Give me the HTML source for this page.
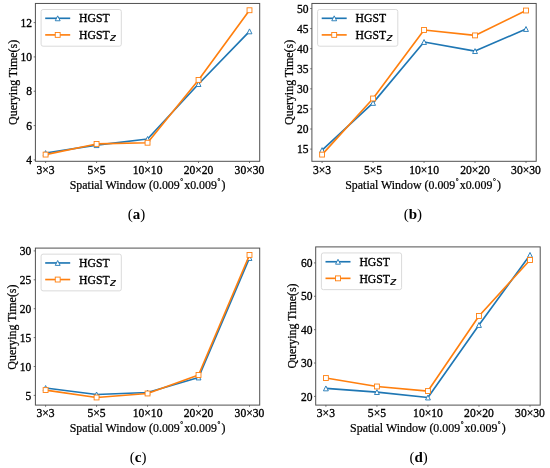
<!DOCTYPE html>
<html><head><meta charset="utf-8"><title>Querying time</title>
<style>html,body{margin:0;padding:0;background:#fff}svg{display:block}text{font-family:"Liberation Serif","DejaVu Serif",serif;fill:#000;stroke:#000;stroke-width:0.24px}.t{stroke-width:0.36px}.z{font-family:"DejaVu Sans","Liberation Sans",sans-serif;font-style:italic;stroke-width:0.2px}</style></head><body>
<svg width="550" height="468" viewBox="0 0 550 468">
<rect width="550" height="468" fill="#fff"/>
<g id="panel-a">
<polyline points="45.60,153.03 96.57,145.14 147.55,138.96 198.53,84.04 249.50,31.35" fill="none" stroke="#1f77b4" stroke-width="1.65" stroke-linejoin="round"/>
<path d="M45.60,150.59L48.05,155.48L43.15,155.48Z" fill="#fff" stroke="#1f77b4" stroke-width="0.9" stroke-linejoin="miter"/>
<path d="M96.57,142.69L99.02,147.59L94.12,147.59Z" fill="#fff" stroke="#1f77b4" stroke-width="0.9" stroke-linejoin="miter"/>
<path d="M147.55,136.51L150.00,141.41L145.10,141.41Z" fill="#fff" stroke="#1f77b4" stroke-width="0.9" stroke-linejoin="miter"/>
<path d="M198.53,81.59L200.98,86.49L196.08,86.49Z" fill="#fff" stroke="#1f77b4" stroke-width="0.9" stroke-linejoin="miter"/>
<path d="M249.50,28.90L251.95,33.80L247.05,33.80Z" fill="#fff" stroke="#1f77b4" stroke-width="0.9" stroke-linejoin="miter"/>
<polyline points="45.60,154.58 96.57,143.94 147.55,142.74 198.53,79.92 249.50,10.24" fill="none" stroke="#ff7f0e" stroke-width="1.65" stroke-linejoin="round"/>
<rect x="43.15" y="152.13" width="4.9" height="4.9" fill="#fff" stroke="#ff7f0e" stroke-width="0.9"/>
<rect x="94.12" y="141.49" width="4.9" height="4.9" fill="#fff" stroke="#ff7f0e" stroke-width="0.9"/>
<rect x="145.10" y="140.29" width="4.9" height="4.9" fill="#fff" stroke="#ff7f0e" stroke-width="0.9"/>
<rect x="196.08" y="77.47" width="4.9" height="4.9" fill="#fff" stroke="#ff7f0e" stroke-width="0.9"/>
<rect x="247.05" y="7.79" width="4.9" height="4.9" fill="#fff" stroke="#ff7f0e" stroke-width="0.9"/>
<rect x="35.4" y="3.45" width="224.30" height="157.85" fill="none" stroke="#505050" stroke-width="1.0"/>
<line x1="45.60" y1="161.3" x2="45.60" y2="163.0" stroke="#505050" stroke-width="0.8"/>
<text transform="translate(45.60,173.90) scale(0.88,1)" class="t" font-size="13.2" text-anchor="middle">3×3</text>
<line x1="96.57" y1="161.3" x2="96.57" y2="163.0" stroke="#505050" stroke-width="0.8"/>
<text transform="translate(96.57,173.90) scale(0.88,1)" class="t" font-size="13.2" text-anchor="middle">5×5</text>
<line x1="147.55" y1="161.3" x2="147.55" y2="163.0" stroke="#505050" stroke-width="0.8"/>
<text transform="translate(147.55,173.90) scale(0.88,1)" class="t" font-size="13.2" text-anchor="middle">10×10</text>
<line x1="198.53" y1="161.3" x2="198.53" y2="163.0" stroke="#505050" stroke-width="0.8"/>
<text transform="translate(198.53,173.90) scale(0.88,1)" class="t" font-size="13.2" text-anchor="middle">20×20</text>
<line x1="249.50" y1="161.3" x2="249.50" y2="163.0" stroke="#505050" stroke-width="0.8"/>
<text transform="translate(249.50,173.90) scale(0.88,1)" class="t" font-size="13.2" text-anchor="middle">30×30</text>
<line x1="35.4" y1="159.90" x2="33.699999999999996" y2="159.90" stroke="#505050" stroke-width="0.8"/>
<text transform="translate(32.10,164.10) scale(0.86,1)" class="t" font-size="13.4" text-anchor="end">4</text>
<line x1="35.4" y1="125.58" x2="33.699999999999996" y2="125.58" stroke="#505050" stroke-width="0.8"/>
<text transform="translate(32.10,129.78) scale(0.86,1)" class="t" font-size="13.4" text-anchor="end">6</text>
<line x1="35.4" y1="91.25" x2="33.699999999999996" y2="91.25" stroke="#505050" stroke-width="0.8"/>
<text transform="translate(32.10,95.45) scale(0.86,1)" class="t" font-size="13.4" text-anchor="end">8</text>
<line x1="35.4" y1="56.92" x2="33.699999999999996" y2="56.92" stroke="#505050" stroke-width="0.8"/>
<text transform="translate(32.10,61.12) scale(0.86,1)" class="t" font-size="13.4" text-anchor="end">10</text>
<line x1="35.4" y1="22.60" x2="33.699999999999996" y2="22.60" stroke="#505050" stroke-width="0.8"/>
<text transform="translate(32.10,26.80) scale(0.86,1)" class="t" font-size="13.4" text-anchor="end">12</text>
<text transform="translate(147.55,188.90) scale(0.896,1)" font-size="13.3" text-anchor="middle">Spatial Window (0.009<tspan dx="0.6" dy="-5.2" font-size="8">°</tspan><tspan dx="1.2" dy="5.2">x0.009</tspan><tspan dx="0.6" dy="-5.2" font-size="8">°</tspan><tspan dx="1.2" dy="5.2">)</tspan></text>
<text transform="translate(16.50,82.38) rotate(-90) scale(0.897,1)" font-size="13.3" text-anchor="middle">Querying Time(s)</text>
<rect x="41.10" y="9.50" width="80.2" height="36.7" rx="2" ry="2" fill="#fff" fill-opacity="0.8" stroke="#dadada" stroke-width="1"/>
<line x1="45.20" y1="18.30" x2="70.20" y2="18.30" stroke="#1f77b4" stroke-width="1.65"/>
<path d="M57.70,15.85L60.15,20.75L55.25,20.75Z" fill="#fff" stroke="#1f77b4" stroke-width="0.9" stroke-linejoin="miter"/>
<line x1="45.20" y1="34.90" x2="70.20" y2="34.90" stroke="#ff7f0e" stroke-width="1.65"/>
<rect x="55.25" y="32.45" width="4.9" height="4.9" fill="#fff" stroke="#ff7f0e" stroke-width="0.9"/>
<text transform="translate(79.10,22.40) scale(0.88,1)" class="t" font-size="13.3">HGST</text>
<text transform="translate(79.10,39.20) scale(0.88,1)" class="t" font-size="13.3">HGST</text>
<text class="z" x="110.00" y="41.20" font-size="11">z</text>
<text x="136.4" y="219.1" font-size="15" text-anchor="middle" style="stroke:none">(<tspan font-weight="bold">a</tspan>)</text>
</g>
<g id="panel-b">
<polyline points="322.10,150.10 373.07,102.90 424.05,42.00 475.03,51.08 526.00,28.99" fill="none" stroke="#1f77b4" stroke-width="1.65" stroke-linejoin="round"/>
<path d="M322.10,147.65L324.55,152.55L319.65,152.55Z" fill="#fff" stroke="#1f77b4" stroke-width="0.9" stroke-linejoin="miter"/>
<path d="M373.07,100.45L375.52,105.35L370.62,105.35Z" fill="#fff" stroke="#1f77b4" stroke-width="0.9" stroke-linejoin="miter"/>
<path d="M424.05,39.55L426.50,44.45L421.60,44.45Z" fill="#fff" stroke="#1f77b4" stroke-width="0.9" stroke-linejoin="miter"/>
<path d="M475.03,48.63L477.48,53.53L472.58,53.53Z" fill="#fff" stroke="#1f77b4" stroke-width="0.9" stroke-linejoin="miter"/>
<path d="M526.00,26.54L528.45,31.44L523.55,31.44Z" fill="#fff" stroke="#1f77b4" stroke-width="0.9" stroke-linejoin="miter"/>
<polyline points="322.10,154.60 373.07,98.48 424.05,29.99 475.03,35.41 526.00,10.51" fill="none" stroke="#ff7f0e" stroke-width="1.65" stroke-linejoin="round"/>
<rect x="319.65" y="152.15" width="4.9" height="4.9" fill="#fff" stroke="#ff7f0e" stroke-width="0.9"/>
<rect x="370.62" y="96.03" width="4.9" height="4.9" fill="#fff" stroke="#ff7f0e" stroke-width="0.9"/>
<rect x="421.60" y="27.54" width="4.9" height="4.9" fill="#fff" stroke="#ff7f0e" stroke-width="0.9"/>
<rect x="472.58" y="32.96" width="4.9" height="4.9" fill="#fff" stroke="#ff7f0e" stroke-width="0.9"/>
<rect x="523.55" y="8.06" width="4.9" height="4.9" fill="#fff" stroke="#ff7f0e" stroke-width="0.9"/>
<rect x="311.9" y="3.45" width="224.30" height="157.85" fill="none" stroke="#505050" stroke-width="1.0"/>
<line x1="322.10" y1="161.3" x2="322.10" y2="163.0" stroke="#505050" stroke-width="0.8"/>
<text transform="translate(322.10,173.90) scale(0.88,1)" class="t" font-size="13.2" text-anchor="middle">3×3</text>
<line x1="373.07" y1="161.3" x2="373.07" y2="163.0" stroke="#505050" stroke-width="0.8"/>
<text transform="translate(373.07,173.90) scale(0.88,1)" class="t" font-size="13.2" text-anchor="middle">5×5</text>
<line x1="424.05" y1="161.3" x2="424.05" y2="163.0" stroke="#505050" stroke-width="0.8"/>
<text transform="translate(424.05,173.90) scale(0.88,1)" class="t" font-size="13.2" text-anchor="middle">10×10</text>
<line x1="475.03" y1="161.3" x2="475.03" y2="163.0" stroke="#505050" stroke-width="0.8"/>
<text transform="translate(475.03,173.90) scale(0.88,1)" class="t" font-size="13.2" text-anchor="middle">20×20</text>
<line x1="526.00" y1="161.3" x2="526.00" y2="163.0" stroke="#505050" stroke-width="0.8"/>
<text transform="translate(526.00,173.90) scale(0.88,1)" class="t" font-size="13.2" text-anchor="middle">30×30</text>
<line x1="311.9" y1="149.10" x2="310.2" y2="149.10" stroke="#505050" stroke-width="0.8"/>
<text transform="translate(308.60,153.30) scale(0.86,1)" class="t" font-size="13.4" text-anchor="end">15</text>
<line x1="311.9" y1="129.01" x2="310.2" y2="129.01" stroke="#505050" stroke-width="0.8"/>
<text transform="translate(308.60,133.21) scale(0.86,1)" class="t" font-size="13.4" text-anchor="end">20</text>
<line x1="311.9" y1="108.93" x2="310.2" y2="108.93" stroke="#505050" stroke-width="0.8"/>
<text transform="translate(308.60,113.13) scale(0.86,1)" class="t" font-size="13.4" text-anchor="end">25</text>
<line x1="311.9" y1="88.84" x2="310.2" y2="88.84" stroke="#505050" stroke-width="0.8"/>
<text transform="translate(308.60,93.04) scale(0.86,1)" class="t" font-size="13.4" text-anchor="end">30</text>
<line x1="311.9" y1="68.76" x2="310.2" y2="68.76" stroke="#505050" stroke-width="0.8"/>
<text transform="translate(308.60,72.96) scale(0.86,1)" class="t" font-size="13.4" text-anchor="end">35</text>
<line x1="311.9" y1="48.67" x2="310.2" y2="48.67" stroke="#505050" stroke-width="0.8"/>
<text transform="translate(308.60,52.87) scale(0.86,1)" class="t" font-size="13.4" text-anchor="end">40</text>
<line x1="311.9" y1="28.59" x2="310.2" y2="28.59" stroke="#505050" stroke-width="0.8"/>
<text transform="translate(308.60,32.79) scale(0.86,1)" class="t" font-size="13.4" text-anchor="end">45</text>
<line x1="311.9" y1="8.50" x2="310.2" y2="8.50" stroke="#505050" stroke-width="0.8"/>
<text transform="translate(308.60,12.70) scale(0.86,1)" class="t" font-size="13.4" text-anchor="end">50</text>
<text transform="translate(423.05,188.90) scale(0.896,1)" font-size="13.3" text-anchor="middle">Spatial Window (0.009<tspan dx="0.6" dy="-5.2" font-size="8">°</tspan><tspan dx="1.2" dy="5.2">x0.009</tspan><tspan dx="0.6" dy="-5.2" font-size="8">°</tspan><tspan dx="1.2" dy="5.2">)</tspan></text>
<text transform="translate(293.00,82.38) rotate(-90) scale(0.897,1)" font-size="13.3" text-anchor="middle">Querying Time(s)</text>
<rect x="317.60" y="9.50" width="80.2" height="36.7" rx="2" ry="2" fill="#fff" fill-opacity="0.8" stroke="#dadada" stroke-width="1"/>
<line x1="321.70" y1="18.30" x2="346.70" y2="18.30" stroke="#1f77b4" stroke-width="1.65"/>
<path d="M334.20,15.85L336.65,20.75L331.75,20.75Z" fill="#fff" stroke="#1f77b4" stroke-width="0.9" stroke-linejoin="miter"/>
<line x1="321.70" y1="34.90" x2="346.70" y2="34.90" stroke="#ff7f0e" stroke-width="1.65"/>
<rect x="331.75" y="32.45" width="4.9" height="4.9" fill="#fff" stroke="#ff7f0e" stroke-width="0.9"/>
<text transform="translate(355.60,22.40) scale(0.88,1)" class="t" font-size="13.3">HGST</text>
<text transform="translate(355.60,39.20) scale(0.88,1)" class="t" font-size="13.3">HGST</text>
<text class="z" x="386.50" y="41.20" font-size="11">z</text>
<text x="412.9" y="219.1" font-size="15" text-anchor="middle" style="stroke:none">(<tspan font-weight="bold">b</tspan>)</text>
</g>
<g id="panel-c">
<polyline points="45.60,388.00 96.57,394.48 147.55,392.51 198.53,377.48 249.50,258.01" fill="none" stroke="#1f77b4" stroke-width="1.65" stroke-linejoin="round"/>
<path d="M45.60,385.55L48.05,390.45L43.15,390.45Z" fill="#fff" stroke="#1f77b4" stroke-width="0.9" stroke-linejoin="miter"/>
<path d="M96.57,392.03L99.02,396.93L94.12,396.93Z" fill="#fff" stroke="#1f77b4" stroke-width="0.9" stroke-linejoin="miter"/>
<path d="M147.55,390.06L150.00,394.96L145.10,394.96Z" fill="#fff" stroke="#1f77b4" stroke-width="0.9" stroke-linejoin="miter"/>
<path d="M198.53,375.03L200.98,379.93L196.08,379.93Z" fill="#fff" stroke="#1f77b4" stroke-width="0.9" stroke-linejoin="miter"/>
<path d="M249.50,255.56L251.95,260.46L247.05,260.46Z" fill="#fff" stroke="#1f77b4" stroke-width="0.9" stroke-linejoin="miter"/>
<polyline points="45.60,390.08 96.57,397.48 147.55,393.49 198.53,375.00 249.50,254.95" fill="none" stroke="#ff7f0e" stroke-width="1.65" stroke-linejoin="round"/>
<rect x="43.15" y="387.63" width="4.9" height="4.9" fill="#fff" stroke="#ff7f0e" stroke-width="0.9"/>
<rect x="94.12" y="395.03" width="4.9" height="4.9" fill="#fff" stroke="#ff7f0e" stroke-width="0.9"/>
<rect x="145.10" y="391.04" width="4.9" height="4.9" fill="#fff" stroke="#ff7f0e" stroke-width="0.9"/>
<rect x="196.08" y="372.55" width="4.9" height="4.9" fill="#fff" stroke="#ff7f0e" stroke-width="0.9"/>
<rect x="247.05" y="252.50" width="4.9" height="4.9" fill="#fff" stroke="#ff7f0e" stroke-width="0.9"/>
<rect x="35.4" y="248.1" width="224.30" height="157.00" fill="none" stroke="#505050" stroke-width="1.0"/>
<line x1="45.60" y1="405.1" x2="45.60" y2="406.8" stroke="#505050" stroke-width="0.8"/>
<text transform="translate(45.60,417.20) scale(0.88,1)" class="t" font-size="13.2" text-anchor="middle">3×3</text>
<line x1="96.57" y1="405.1" x2="96.57" y2="406.8" stroke="#505050" stroke-width="0.8"/>
<text transform="translate(96.57,417.20) scale(0.88,1)" class="t" font-size="13.2" text-anchor="middle">5×5</text>
<line x1="147.55" y1="405.1" x2="147.55" y2="406.8" stroke="#505050" stroke-width="0.8"/>
<text transform="translate(147.55,417.20) scale(0.88,1)" class="t" font-size="13.2" text-anchor="middle">10×10</text>
<line x1="198.53" y1="405.1" x2="198.53" y2="406.8" stroke="#505050" stroke-width="0.8"/>
<text transform="translate(198.53,417.20) scale(0.88,1)" class="t" font-size="13.2" text-anchor="middle">20×20</text>
<line x1="249.50" y1="405.1" x2="249.50" y2="406.8" stroke="#505050" stroke-width="0.8"/>
<text transform="translate(249.50,417.20) scale(0.88,1)" class="t" font-size="13.2" text-anchor="middle">30×30</text>
<line x1="35.4" y1="395.40" x2="33.699999999999996" y2="395.40" stroke="#505050" stroke-width="0.8"/>
<text transform="translate(31.20,399.60) scale(0.86,1)" class="t" font-size="13.4" text-anchor="end">5</text>
<line x1="35.4" y1="366.50" x2="33.699999999999996" y2="366.50" stroke="#505050" stroke-width="0.8"/>
<text transform="translate(31.20,370.70) scale(0.86,1)" class="t" font-size="13.4" text-anchor="end">10</text>
<line x1="35.4" y1="337.60" x2="33.699999999999996" y2="337.60" stroke="#505050" stroke-width="0.8"/>
<text transform="translate(31.20,341.80) scale(0.86,1)" class="t" font-size="13.4" text-anchor="end">15</text>
<line x1="35.4" y1="308.70" x2="33.699999999999996" y2="308.70" stroke="#505050" stroke-width="0.8"/>
<text transform="translate(31.20,312.90) scale(0.86,1)" class="t" font-size="13.4" text-anchor="end">20</text>
<line x1="35.4" y1="279.80" x2="33.699999999999996" y2="279.80" stroke="#505050" stroke-width="0.8"/>
<text transform="translate(31.20,284.00) scale(0.86,1)" class="t" font-size="13.4" text-anchor="end">25</text>
<line x1="35.4" y1="250.90" x2="33.699999999999996" y2="250.90" stroke="#505050" stroke-width="0.8"/>
<text transform="translate(31.20,255.10) scale(0.86,1)" class="t" font-size="13.4" text-anchor="end">30</text>
<text transform="translate(147.55,432.20) scale(0.896,1)" font-size="13.3" text-anchor="middle">Spatial Window (0.009<tspan dx="0.6" dy="-5.2" font-size="8">°</tspan><tspan dx="1.2" dy="5.2">x0.009</tspan><tspan dx="0.6" dy="-5.2" font-size="8">°</tspan><tspan dx="1.2" dy="5.2">)</tspan></text>
<text transform="translate(15.50,327.10) rotate(-90) scale(0.897,1)" font-size="13.3" text-anchor="middle">Querying Time(s)</text>
<rect x="41.10" y="254.15" width="80.2" height="36.7" rx="2" ry="2" fill="#fff" fill-opacity="0.8" stroke="#dadada" stroke-width="1"/>
<line x1="45.20" y1="262.95" x2="70.20" y2="262.95" stroke="#1f77b4" stroke-width="1.65"/>
<path d="M57.70,260.50L60.15,265.40L55.25,265.40Z" fill="#fff" stroke="#1f77b4" stroke-width="0.9" stroke-linejoin="miter"/>
<line x1="45.20" y1="279.55" x2="70.20" y2="279.55" stroke="#ff7f0e" stroke-width="1.65"/>
<rect x="55.25" y="277.10" width="4.9" height="4.9" fill="#fff" stroke="#ff7f0e" stroke-width="0.9"/>
<text transform="translate(79.10,267.05) scale(0.88,1)" class="t" font-size="13.3">HGST</text>
<text transform="translate(79.10,283.85) scale(0.88,1)" class="t" font-size="13.3">HGST</text>
<text class="z" x="110.00" y="285.85" font-size="11">z</text>
<text x="138.1" y="462.2" font-size="15" text-anchor="middle" style="stroke:none">(<tspan font-weight="bold">c</tspan>)</text>
</g>
<g id="panel-d">
<polyline points="325.90,388.39 376.93,392.06 427.95,397.50 478.97,324.98 530.00,254.89" fill="none" stroke="#1f77b4" stroke-width="1.65" stroke-linejoin="round"/>
<path d="M325.90,385.94L328.35,390.84L323.45,390.84Z" fill="#fff" stroke="#1f77b4" stroke-width="0.9" stroke-linejoin="miter"/>
<path d="M376.93,389.61L379.38,394.51L374.48,394.51Z" fill="#fff" stroke="#1f77b4" stroke-width="0.9" stroke-linejoin="miter"/>
<path d="M427.95,395.05L430.40,399.95L425.50,399.95Z" fill="#fff" stroke="#1f77b4" stroke-width="0.9" stroke-linejoin="miter"/>
<path d="M478.97,322.53L481.42,327.43L476.52,327.43Z" fill="#fff" stroke="#1f77b4" stroke-width="0.9" stroke-linejoin="miter"/>
<path d="M530.00,252.44L532.45,257.34L527.55,257.34Z" fill="#fff" stroke="#1f77b4" stroke-width="0.9" stroke-linejoin="miter"/>
<polyline points="325.90,378.04 376.93,386.49 427.95,391.06 478.97,315.97 530.00,260.00" fill="none" stroke="#ff7f0e" stroke-width="1.65" stroke-linejoin="round"/>
<rect x="323.45" y="375.59" width="4.9" height="4.9" fill="#fff" stroke="#ff7f0e" stroke-width="0.9"/>
<rect x="374.48" y="384.04" width="4.9" height="4.9" fill="#fff" stroke="#ff7f0e" stroke-width="0.9"/>
<rect x="425.50" y="388.61" width="4.9" height="4.9" fill="#fff" stroke="#ff7f0e" stroke-width="0.9"/>
<rect x="476.52" y="313.52" width="4.9" height="4.9" fill="#fff" stroke="#ff7f0e" stroke-width="0.9"/>
<rect x="527.55" y="257.55" width="4.9" height="4.9" fill="#fff" stroke="#ff7f0e" stroke-width="0.9"/>
<rect x="315.7" y="246.9" width="224.50" height="158.20" fill="none" stroke="#505050" stroke-width="1.0"/>
<line x1="325.90" y1="405.1" x2="325.90" y2="406.8" stroke="#505050" stroke-width="0.8"/>
<text transform="translate(325.90,417.20) scale(0.88,1)" class="t" font-size="13.2" text-anchor="middle">3×3</text>
<line x1="376.93" y1="405.1" x2="376.93" y2="406.8" stroke="#505050" stroke-width="0.8"/>
<text transform="translate(376.93,417.20) scale(0.88,1)" class="t" font-size="13.2" text-anchor="middle">5×5</text>
<line x1="427.95" y1="405.1" x2="427.95" y2="406.8" stroke="#505050" stroke-width="0.8"/>
<text transform="translate(427.95,417.20) scale(0.88,1)" class="t" font-size="13.2" text-anchor="middle">10×10</text>
<line x1="478.97" y1="405.1" x2="478.97" y2="406.8" stroke="#505050" stroke-width="0.8"/>
<text transform="translate(478.97,417.20) scale(0.88,1)" class="t" font-size="13.2" text-anchor="middle">20×20</text>
<line x1="530.00" y1="405.1" x2="530.00" y2="406.8" stroke="#505050" stroke-width="0.8"/>
<text transform="translate(530.00,417.20) scale(0.88,1)" class="t" font-size="13.2" text-anchor="middle">30×30</text>
<line x1="315.7" y1="396.40" x2="314.0" y2="396.40" stroke="#505050" stroke-width="0.8"/>
<text transform="translate(312.40,400.60) scale(0.86,1)" class="t" font-size="13.4" text-anchor="end">20</text>
<line x1="315.7" y1="363.02" x2="314.0" y2="363.02" stroke="#505050" stroke-width="0.8"/>
<text transform="translate(312.40,367.22) scale(0.86,1)" class="t" font-size="13.4" text-anchor="end">30</text>
<line x1="315.7" y1="329.65" x2="314.0" y2="329.65" stroke="#505050" stroke-width="0.8"/>
<text transform="translate(312.40,333.85) scale(0.86,1)" class="t" font-size="13.4" text-anchor="end">40</text>
<line x1="315.7" y1="296.27" x2="314.0" y2="296.27" stroke="#505050" stroke-width="0.8"/>
<text transform="translate(312.40,300.47) scale(0.86,1)" class="t" font-size="13.4" text-anchor="end">50</text>
<line x1="315.7" y1="262.90" x2="314.0" y2="262.90" stroke="#505050" stroke-width="0.8"/>
<text transform="translate(312.40,267.10) scale(0.86,1)" class="t" font-size="13.4" text-anchor="end">60</text>
<text transform="translate(427.95,432.20) scale(0.896,1)" font-size="13.3" text-anchor="middle">Spatial Window (0.009<tspan dx="0.6" dy="-5.2" font-size="8">°</tspan><tspan dx="1.2" dy="5.2">x0.009</tspan><tspan dx="0.6" dy="-5.2" font-size="8">°</tspan><tspan dx="1.2" dy="5.2">)</tspan></text>
<text transform="translate(296.30,326.00) rotate(-90) scale(0.897,1)" font-size="13.3" text-anchor="middle">Querying Time(s)</text>
<rect x="321.40" y="252.95" width="80.2" height="36.7" rx="2" ry="2" fill="#fff" fill-opacity="0.8" stroke="#dadada" stroke-width="1"/>
<line x1="325.50" y1="261.75" x2="350.50" y2="261.75" stroke="#1f77b4" stroke-width="1.65"/>
<path d="M338.00,259.30L340.45,264.20L335.55,264.20Z" fill="#fff" stroke="#1f77b4" stroke-width="0.9" stroke-linejoin="miter"/>
<line x1="325.50" y1="278.35" x2="350.50" y2="278.35" stroke="#ff7f0e" stroke-width="1.65"/>
<rect x="335.55" y="275.90" width="4.9" height="4.9" fill="#fff" stroke="#ff7f0e" stroke-width="0.9"/>
<text transform="translate(359.40,265.85) scale(0.88,1)" class="t" font-size="13.3">HGST</text>
<text transform="translate(359.40,282.65) scale(0.88,1)" class="t" font-size="13.3">HGST</text>
<text class="z" x="390.30" y="284.65" font-size="11">z</text>
<text x="418.6" y="462.2" font-size="15" text-anchor="middle" style="stroke:none">(<tspan font-weight="bold">d</tspan>)</text>
</g>
</svg></body></html>
